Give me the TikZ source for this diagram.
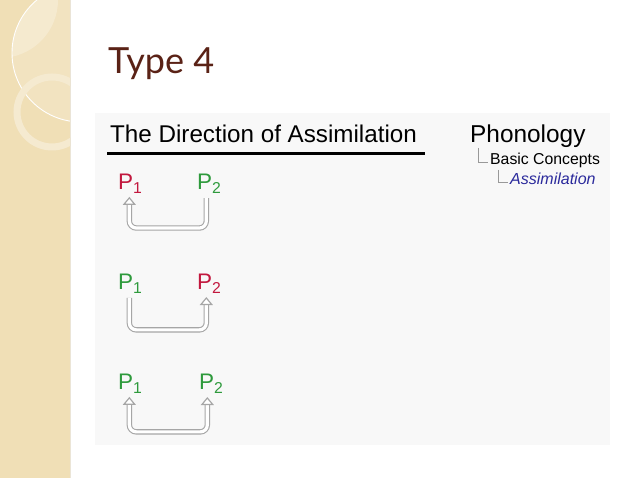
\documentclass[tikz,border=0pt]{standalone}
\usepackage{fontspec}
\setmainfont{Liberation Sans}
\newfontfamily\titlefont{Lato}
\usetikzlibrary{arrows.meta,positioning}
\definecolor{sidetan}{HTML}{F0DFB6}
\definecolor{ringtan}{HTML}{F5EAD0}
\definecolor{titlebrown}{HTML}{5A2216}
\definecolor{pred}{HTML}{C2183E}
\definecolor{pgreen}{HTML}{2E9A3C}
\definecolor{treeblue}{HTML}{2B2A9C}
\definecolor{panelgray}{HTML}{F8F8F8}
\begin{document}
\begin{tikzpicture}[x=1pt, y=1pt,
  seg/.style = {anchor=base west, inner sep=0pt, font=\fontsize{22.5}{22.5}\selectfont},
  hollow/.tip = {Triangle[length=8pt, width=13pt, fill=white, color=gray!70, line width=1.2pt]},
  link/.style = {draw=gray!70, double=white, double distance=3.2pt, line width=1.1pt, rounded corners=7pt}]
\useasboundingbox (0,0) rectangle (638,478);
% sidebar
\fill[sidetan] (0,0) rectangle (70,478);
\begin{scope}
\clip (0,0) rectangle (70,478);
\fill[white, opacity=0.15] (81,425) circle (69);
\begin{scope}
\clip (81,425) circle (69);
\fill[white, opacity=0.25] (0,478) circle (58);
\end{scope}
\draw[white, line width=0.9pt] (81,425) circle (69);
\draw[ringtan, line width=7pt] (52,366) circle (35);
\end{scope}
\draw[sidetan!85!black, opacity=0.4] (70,0) -- (70,478);
% panel
\fill[panelgray] (95,33) rectangle (610,365);

\node[anchor=base west, inner sep=0pt, text=titlebrown, font=\titlefont\fontsize{36}{36}\selectfont] (title) at (108,404) {Type 4};

\node[anchor=base west, inner sep=0pt, font=\fontsize{24.2}{24.2}\selectfont] (head) at (110,335) {The Direction of Assimilation};
\draw[line width=3pt] (107,324) -- (425,324);

\node[anchor=base west, inner sep=0pt, font=\fontsize{24.4}{24.4}\selectfont] (phon) at (470,335) {Phonology};
\node[anchor=base west, inner sep=0pt, font=\fontsize{15.8}{15.8}\selectfont] (basic) at (490,313) {Basic Concepts};
\node[anchor=base west, inner sep=0pt, text=treeblue, font=\fontsize{16}{16}\selectfont\itshape] (assim) at (510,293) {Assimilation};
\draw[gray!80, line width=0.8pt] (478,330) |- (488,316);
\draw[gray!80, line width=0.8pt] (498,308) |- (508,296);

% row 1
\node[seg, text=pred] (p1a) at (118,288) {P\textsubscript{1}};
\node[seg, text=pgreen] (p2a) at (197,288) {P\textsubscript{2}};
% row 2
\node[seg, text=pgreen] (p1b) at (118,188) {P\textsubscript{1}};
\node[seg, text=pred] (p2b) at (197,188) {P\textsubscript{2}};
% row 3
\node[seg, text=pgreen] (p1c) at (118,88) {P\textsubscript{1}};
\node[seg, text=pgreen] (p2c) at (199,88) {P\textsubscript{2}};

\draw[link, -hollow] ([shift={(-3pt,-4pt)}]p2a.south) -- ++(0,-30) -| ([shift={(-1pt,-3pt)}]p1a.south);
\draw[link, -hollow] ([shift={(-1pt,-4pt)}]p1b.south) -- ++(0,-32) -| ([shift={(-3pt,-3pt)}]p2b.south);
\draw[link, hollow-hollow] ([shift={(-1pt,-3pt)}]p1c.south) -- ++(0,-35) -| ([shift={(-4pt,-3pt)}]p2c.south);
\end{tikzpicture}
\end{document}
